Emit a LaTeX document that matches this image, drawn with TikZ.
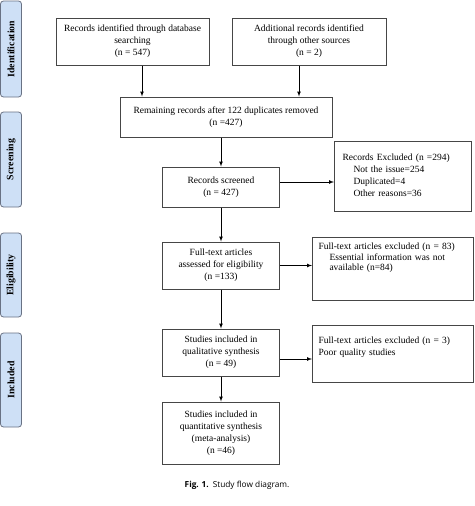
\documentclass[tikz,border=0pt]{standalone}
\usepackage{fontspec}
\setmainfont{Liberation Serif}
\newfontfamily\fdcaptionfont{Open Sans}
\usetikzlibrary{calc}

\definecolor{fd-StageColor}{RGB}{206,224,246}
\definecolor{fd-StageBorder}{RGB}{105,114,132}
\definecolor{fd-BoxBorder}{RGB}{70,70,70}
\newcommand{\fdtext}{\fontsize{9.5}{12}\selectfont}
\tikzstyle{fd-box-base}=[rectangle,
                         draw={fd-BoxBorder},
                         line width=1pt,
                         font=\fdtext,
                         inner sep=3pt,
                        ]
\tikzstyle{fd-step}=[fd-box-base,
                     align=center]
\tikzstyle{fd-excluded}=[fd-box-base,
                         align=left,
                         anchor=north west,
                         inner xsep=6pt]
\tikzstyle{fd-stage}=[rectangle,
                      rounded corners=3pt,
                      draw={fd-StageBorder},
                      fill={fd-StageColor},
                      line width=0.8pt,
                      rotate=90,
                      minimum height=21pt,
                      font=\fontsize{9.8}{11}\selectfont\bfseries]

\begin{document}
\begin{tikzpicture}[x=1pt, y=-1pt]
    \useasboundingbox (0,0) rectangle (474,506);
    % Stages
    % --------------------------------------------------------------------------
    \node at (11,  49.0) (stage_ident)  [fd-stage, minimum width=96pt] {Identification};
    \node at (11, 159.5) (stage_screen) [fd-stage, minimum width=95pt] {Screening};
    \node at (11, 275.0) (stage_elig)   [fd-stage, minimum width=84pt] {Eligibility};
    \node at (11, 380.0) (stage_incl)   [fd-stage, minimum width=94pt] {Included};

    % Identification
    % --------------------------------------------------------------------------
    \node at (132.5, 41.5) (database) [fd-step, minimum width=153pt, minimum height=47pt]
        {Records identified through database\\ searching\\ (n = 547)};
    \node at (309.0, 41.5) (other)    [fd-step, minimum width=154pt, minimum height=47pt]
        {Additional records identified\\ through other sources\\ (n = 2)};

    % ------------------------------------------------------------------------
    \node at (226, 117) (remaining) [fd-step, minimum width=212pt, minimum height=40pt]
        {Remaining records after 122 duplicates removed\\ (n =427)};

    % Screening
    % ------------------------------------------------------------------------
    \node at (221, 187) (screened) [fd-step, minimum width=117pt, minimum height=40pt]
        {Records screened\\ (n = 427)};
    \node at (334, 141) (excl_records) [fd-excluded, inner xsep=8pt, text width=121pt,
                                        text height=16pt, text depth=48pt]
        {Records Excluded (n =294)\\
         \hspace*{11pt}Not the issue=254\\
         \hspace*{11pt}Duplicated=4\\
         \hspace*{11pt}Other reasons=36};

    % Eligibility
    % ------------------------------------------------------------------------
    \node at (221, 265.5) (fulltext) [fd-step, minimum width=117pt, minimum height=47pt]
        {Full-text articles\\ assessed for eligibility\\ (n =133)};
    \node at (312, 237) (excl_fulltext) [fd-excluded, text width=149pt,
                                         font=\fontsize{9.5}{10.5}\selectfont,
                                         text height=9pt, text depth=48pt]
        {Full-text articles excluded (n = 83)\\
         \hspace*{11pt}Essential information was not\\
         \hspace*{11pt}available (n=84)};

    % Included
    % ------------------------------------------------------------------------
    \node at (221, 352.5) (qualitative) [fd-step, minimum width=117pt, minimum height=47pt]
        {Studies included in\\ qualitative synthesis\\ (n = 49)};
    \node at (312, 325) (excl_quality) [fd-excluded, text width=149pt,
                                        text height=15pt, text depth=36pt]
        {Full-text articles excluded (n = 3)\\
         Poor quality studies};
    \node at (221, 433) (quantitative) [fd-step, minimum width=117pt, minimum height=62pt]
        {Studies included in\\ quantitative synthesis\\ (meta-analysis)\\ (n =46)};

    % Caption
    % ------------------------------------------------------------------------
    \node at (237, 485) (caption) [font=\fdcaptionfont\fontsize{8.3}{10}\selectfont]
        {\textbf{Fig. 1.}\hspace{4pt}Study flow diagram.};

    % Arrows
    % --------------------------------------------------------------------------
    \draw[-latex, line width=0.7pt] ([xshift=9.5pt]database.south) -- ([xshift=9.5pt]database.south |- remaining.north);
    \draw[-latex, line width=0.7pt] ([xshift=-10pt]other.south)    -- ([xshift=-10pt]other.south |- remaining.north);
    \draw[-latex, line width=0.7pt] (screened.north |- remaining.south) -- (screened.north);

    \draw[-latex, line width=0.7pt] ([yshift=5pt]screened.east) -- ([yshift=5pt]screened.east -| excl_records.west);
    \draw[-latex, line width=0.7pt] (screened) -- (fulltext);

    \draw[-latex, line width=0.7pt] (fulltext.east) -- (fulltext.east -| excl_fulltext.west);
    \draw[-latex, line width=0.7pt] (fulltext) -- (qualitative);

    \draw[-latex, line width=0.7pt] ([yshift=-6.5pt]qualitative.east) -- ([yshift=-6.5pt]qualitative.east -| excl_quality.west);
    \draw[-latex, line width=0.7pt] (qualitative) -- (quantitative);

\end{tikzpicture}
\end{document}
